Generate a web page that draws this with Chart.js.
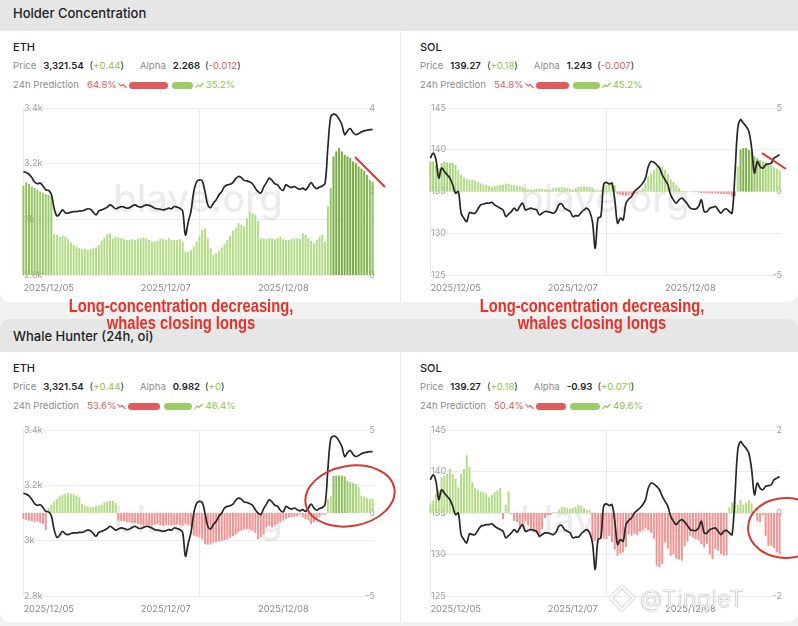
<!DOCTYPE html>
<html>
<head>
<meta charset="utf-8">
<script src="https://cdn.jsdelivr.net/npm/chart.js@4.4.1/dist/chart.umd.min.js"></script>
<style>
html,body{margin:0;padding:0;}
body{width:798px;height:626px;overflow:hidden;background:#f1f1f1;font-family:Inter,"Noto Sans",sans-serif;position:relative;}
.band{position:absolute;left:0;width:798px;background:#e6e6e6;color:#1e1e1e;font-size:13px;font-weight:500;box-sizing:border-box;padding-left:13px;}
.card{position:absolute;left:0;width:798px;background:#fff;}
.divider{position:absolute;left:400px;width:1px;background:#e8e8e8;}
.sym{position:absolute;font-size:11px;font-weight:500;color:#222;line-height:14px;}
.row{position:absolute;font-size:9.6px;line-height:14px;color:#8c8c8c;white-space:nowrap;display:flex;align-items:center;}
.v{color:#262626;font-weight:600;}
.p{color:#262626;}
.g{color:#8bc34a;}
.r{color:#e25c5c;}
.pb{display:inline-block;height:7px;border-radius:3.5px;}
canvas{position:absolute;}
.note{position:absolute;color:#e2342b;font-family:"Liberation Sans",Arial,sans-serif;font-weight:bold;font-size:18px;line-height:18px;white-space:nowrap;transform:translateX(-50%) scaleX(0.82);}
.wm{position:absolute;left:640px;top:585px;font-size:23px;font-weight:300;color:rgba(255,255,255,0.9);text-shadow:0 0 1px #9a9a9a,0 0 1px #9a9a9a;letter-spacing:0.5px;}
</style>
</head>
<body>
<div class="band" style="top:0;height:31px;line-height:27px;">Holder Concentration</div>
<div class="card" style="top:31px;height:271px;border-radius:0 0 10px 10px;"></div>
<div class="divider" style="top:31px;height:271px;"></div>
<div class="band" style="top:319px;height:33px;line-height:34px;border-radius:10px 10px 0 0;">Whale Hunter (24h, oi)</div>
<div class="card" style="top:352px;height:270px;border-radius:0 0 10px 10px;"></div>
<div class="divider" style="top:352px;height:270px;"></div>

<div id="texts"></div>

<canvas id="c1" width="400" height="205" style="left:0;top:95px;"></canvas>
<canvas id="c2" width="391" height="205" style="left:407px;top:95px;"></canvas>
<canvas id="c3" width="400" height="204" style="left:0;top:417px;"></canvas>
<canvas id="c4" width="391" height="204" style="left:407px;top:417px;"></canvas>

<div class="note" style="left:181px;top:297px;">Long-concentration decreasing,</div>
<div class="note" style="left:181px;top:314px;">whales closing longs</div>
<div class="note" style="left:592px;top:297px;">Long-concentration decreasing,</div>
<div class="note" style="left:592px;top:314px;">whales closing longs</div>

<svg width="798" height="626" style="position:absolute;left:0;top:0;pointer-events:none;">
  <line x1="355" y1="157" x2="385" y2="187" stroke="#e0352c" stroke-width="2"/>
  <line x1="762" y1="153" x2="786" y2="169" stroke="#e0352c" stroke-width="2"/>
  <ellipse cx="350" cy="496" rx="45" ry="30" transform="rotate(-10 350 496)" fill="none" stroke="#d8372f" stroke-width="2"/>
  <ellipse cx="786" cy="528" rx="38" ry="30" fill="none" stroke="#d8372f" stroke-width="2"/>
  <g transform="translate(622 598) rotate(45)" fill="none" stroke="rgba(255,255,255,0.95)" stroke-width="2.2">
    <rect x="-8" y="-8" width="16" height="16" style="filter:drop-shadow(0 0 1px #999)"/>
  </g>
</svg>
<div class="wm">@TingleT</div>

<script>
// ---------- data ----------
const xTickLabels = ['2025/12/05', '2025/12/07', '2025/12/08'];

const ethPrice = [
  3172,3168,3162,3150,3134,3128,3130,3120,3106,3104,
  3090,3040,3012,3020,3034,3024,3022,3026,3028,3028,
  3030,3030,3034,3038,3036,3026,3016,3030,3034,3038,
  3044,3052,3046,3038,3042,3046,3044,3040,3042,3048,
  3052,3046,3044,3048,3052,3050,3046,3040,3038,3036,
  3034,3036,3040,3038,3046,3044,3040,3030,2944,2990,
  3030,3100,3135,3142,3138,3100,3052,3042,3058,3070,
  3088,3100,3118,3124,3126,3132,3146,3154,3150,3140,
  3138,3134,3128,3112,3100,3094,3116,3132,3148,3140,
  3128,3124,3110,3104,3124,3118,3114,3118,3112,3108,
  3112,3106,3118,3132,3118,3110,3116,3120,3130,3260,
  3368,3378,3374,3360,3340,3304,3318,3326,3312,3304,
  3308,3314,3318,3320,3322,3322
];

const solPrice = [
  139.0,139.6,138.8,136.6,137.8,137.4,137.0,136.6,135.8,134.8,
  135.0,132.4,131.8,131.4,132.5,132.4,132.4,132.9,133.4,133.5,
  133.6,133.6,133.7,133.4,133.2,133.0,132.8,132.0,132.3,132.6,
  133.0,132.7,133.2,133.6,132.8,132.9,133.0,132.9,132.8,132.2,
  132.4,132.6,132.6,132.5,132.4,132.7,133.4,133.5,133.0,132.8,
  132.6,132.0,132.1,132.1,132.5,132.8,133.0,132.6,131.4,128.2,
  131.8,132.0,135.8,136.1,135.9,136.0,134.0,131.2,131.8,131.6,
  133.6,134.1,134.4,135.0,135.3,135.6,136.0,136.6,138.0,138.6,
  138.5,138.2,137.8,137.0,136.4,135.8,134.6,134.0,133.6,134.0,
  134.2,133.9,133.5,133.0,132.9,132.9,133.2,134.0,132.6,132.6,
  133.0,133.1,133.2,132.8,132.4,132.8,132.9,132.6,132.4,137.0,
  142.5,143.6,143.2,142.8,142.2,140.2,137.2,138.6,138.0,137.8,
  138.2,138.3,138.4,139.0,139.2,139.4
];

const ethHolder = [
  2.14,2.22,2.18,2.12,2.08,2.04,2.00,1.96,1.94,1.92,
  1.90,0.98,0.96,0.92,0.94,0.92,0.86,0.78,0.72,0.68,
  0.64,0.62,0.62,0.60,0.62,0.64,0.66,0.72,0.82,0.90,
  0.98,1.00,0.88,0.92,0.90,0.88,0.86,0.84,0.84,0.86,
  0.84,0.86,0.88,0.90,0.88,0.84,0.80,0.80,0.82,0.86,
  0.86,0.84,0.88,0.84,0.84,0.84,0.86,0.80,0.56,0.56,
  0.60,0.68,0.80,0.92,1.08,1.12,0.88,0.64,0.48,0.52,
  0.58,0.66,0.74,0.84,0.94,1.06,1.12,1.24,1.20,1.16,
  1.36,1.52,1.48,1.44,1.30,0.88,0.88,0.86,0.88,0.88,
  0.86,0.88,0.92,0.86,0.84,0.84,0.86,0.88,0.88,0.86,
  1.00,0.96,0.88,0.82,0.76,0.84,0.92,0.96,0.80,1.64,
  2.08,2.84,2.96,3.04,2.96,2.88,2.84,2.80,2.72,2.68,
  2.60,2.55,2.50,2.40,2.28,2.24
];

const solHolder = [
  1.80,1.80,1.60,1.40,1.70,1.80,1.75,1.70,1.70,1.60,
  1.30,1.00,0.84,0.74,0.70,0.70,0.66,0.56,0.48,0.42,
  0.38,0.34,0.30,0.32,0.36,0.38,0.40,0.48,0.46,0.40,
  0.38,0.36,0.32,0.26,0.20,0.14,0.10,0.12,0.16,0.16,
  0.16,0.14,0.12,0.10,0.20,0.24,0.24,0.26,0.24,0.22,
  0.14,0.10,0.20,0.28,0.28,0.30,0.28,0.26,0.24,0.10,
  0.08,0.10,0.30,0.40,0.42,0.40,0.38,-0.16,-0.20,-0.24,
  -0.26,-0.24,-0.22,-0.16,-0.10,0.06,0.20,0.50,0.90,1.10,
  1.30,1.45,1.56,1.50,1.30,1.04,0.70,0.56,0.40,0.20,
  0.06,0.02,0.00,0.00,-0.04,-0.04,-0.06,-0.08,-0.08,-0.10,
  -0.12,-0.12,-0.12,-0.14,-0.14,-0.16,-0.16,-0.18,-0.30,-0.28,
  1.50,2.50,2.60,2.60,2.50,2.40,2.10,2.00,1.90,1.80,
  1.75,1.70,1.60,1.45,1.36,1.30
];

const ethWhale = [
  -0.36,-0.42,-0.46,-0.50,-0.56,-0.50,-0.60,-0.66,-1.03,0.30,
  0.50,0.70,0.85,1.00,1.10,1.15,1.20,1.18,1.12,1.05,
  0.95,0.55,0.44,0.40,0.34,0.36,0.42,0.46,0.50,0.64,
  0.68,0.72,0.75,0.60,-0.46,-0.48,-0.50,-0.56,-0.56,-0.60,
  -0.62,-0.66,-0.70,-0.77,-0.72,-0.74,-0.77,-0.70,-0.66,-0.72,
  -0.77,-0.72,-0.74,-0.76,-0.72,-0.70,-0.74,-0.77,-0.68,-0.76,
  -0.80,-1.37,-1.42,-1.47,-1.60,-1.88,-1.92,-1.90,-1.78,-1.75,
  -1.70,-1.68,-1.62,-1.58,-1.50,-1.40,-1.30,-1.15,-1.07,-1.00,
  -0.97,-1.00,-1.07,-1.20,-1.58,-1.45,-1.30,-0.87,-0.77,-0.87,
  -0.75,-0.66,-0.55,-0.46,-0.35,-0.28,-0.25,-0.22,-0.20,-0.10,
  -0.26,-0.36,-0.45,-0.66,-0.56,-0.30,-0.25,-0.10,-0.10,0.83,
  1.02,2.23,2.26,2.26,2.26,2.20,1.93,1.85,1.80,1.75,
  1.56,1.05,1.00,0.90,0.85,0.83
];

const solWhale = [
  0.23,0.30,0.46,0.54,0.86,0.90,0.94,1.06,0.94,0.82,
  0.62,0.94,1.06,1.39,1.10,0.74,0.60,0.56,0.52,0.50,
  0.46,0.38,0.44,0.50,0.54,0.60,-0.15,0.20,0.52,-0.02,
  -0.19,-0.22,-0.39,-0.35,-0.20,-0.30,-0.39,-0.45,-0.50,-0.59,
  -0.39,-0.12,-0.06,-0.05,0.02,0.02,0.08,0.14,0.15,0.12,
  0.10,0.12,0.14,0.20,0.18,0.12,0.07,0.07,-0.71,-0.68,
  -0.69,-0.60,-0.62,-0.63,-0.55,-0.70,-0.88,-1.03,-0.98,-0.95,
  -0.82,-0.51,-0.55,-0.50,-0.53,-0.45,-0.42,-0.36,-0.42,-0.48,
  -0.62,-1.27,-1.31,-1.23,-0.71,-0.86,-1.03,-0.99,-1.10,-1.12,
  -1.15,-0.80,-0.69,-0.55,-0.59,-0.63,-0.67,-0.75,-0.83,-0.74,
  -1.00,-1.11,-0.87,-0.91,-0.99,-1.03,-1.02,0.14,0.26,0.30,
  0.20,0.31,0.20,0.25,0.31,0.23,0.00,-0.19,-0.22,-0.06,
  -0.55,-0.79,-0.79,-0.85,-0.95,-0.99
];

const headerStats = [
  {sym:'ETH', price:'3,321.54', priceChg:'+0.44', alpha:'2.268', alphaChg:'-0.012', down:64.8, up:35.2},
  {sym:'SOL', price:'139.27', priceChg:'+0.18', alpha:'1.243', alphaChg:'-0.007', down:54.8, up:45.2},
  {sym:'ETH', price:'3,321.54', priceChg:'+0.44', alpha:'0.982', alphaChg:'+0', down:53.6, up:46.4},
  {sym:'SOL', price:'139.27', priceChg:'+0.18', alpha:'-0.93', alphaChg:'+0.071', down:50.4, up:49.6}
];

// ---------- header texts ----------
const panelPos = [{x:13, y:40}, {x:420, y:40}, {x:13, y:361}, {x:420, y:361}];
const downIcon = '<svg width="9" height="7" style="margin-left:1px"><polyline points="0.5,1 3,4 5,2.5 8.5,6" fill="none" stroke="#e25c5c" stroke-width="1.1"/></svg>';
const upIcon = '<svg width="9" height="7" style="margin-left:2px"><polyline points="0.5,6 3,3 5,4.5 8.5,1" fill="none" stroke="#8bc34a" stroke-width="1.1"/></svg>';
let html = '';
headerStats.forEach((s, i) => {
  const p = panelPos[i];
  const cls = s.alphaChg.startsWith('-') ? 'r' : 'g';
  const redW = Math.round(60 * s.down / 100), greenW = 60 - redW;
  html += `<div class="sym" style="left:${p.x}px;top:${p.y}px">${s.sym}</div>`;
  html += `<div class="row" style="left:${p.x}px;top:${p.y + 19}px"><span>Price</span><span class="v" style="margin-left:7px">${s.price}</span><span class="p" style="margin-left:6px">(<span class="g">${s.priceChg}</span>)</span><span style="margin-left:16px">Alpha</span><span class="v" style="margin-left:7px">${s.alpha}</span><span class="p" style="margin-left:5px">(<span class="${cls}">${s.alphaChg}</span>)</span></div>`;
  html += `<div class="row" style="left:${p.x}px;top:${p.y + 38}px"><span>24h Prediction</span><span class="r" style="margin-left:8px">${s.down}%</span>${downIcon}<span class="pb" style="margin-left:2px;width:${redW}px;background:#e15b5b"></span><span class="pb" style="margin-left:4px;width:${greenW}px;background:#9ccc65"></span>${upIcon}<span class="g" style="margin-left:2px">${s.up}%</span></div>`;
});
document.getElementById('texts').innerHTML = html;

// ---------- charts ----------
const TICK_EVERY = 42;
const MID_GRID = 63;
const categories = ethPrice.map((_, i) => i % TICK_EVERY === 0 ? xTickLabels[i / TICK_EVERY] : '');

function mix(a, b, t) {
  const pa = [1,3,5].map(k => parseInt(a.substr(k, 2), 16));
  const pb = [1,3,5].map(k => parseInt(b.substr(k, 2), 16));
  return 'rgb(' + pa.map((v, k) => Math.round(v + (pb[k] - v) * t)).join(',') + ')';
}
function barColor(v) {
  if (v < 0) return '#f09494';
  const t = Math.max(0, Math.min(1, (v - 1.5) / 1.2));
  return mix('#b4dc88', '#78ab43', t);
}

const watermark = {
  id: 'wm',
  beforeDatasetsDraw(chart) {
    const {ctx, chartArea: a} = chart;
    ctx.save();
    ctx.font = '500 38px Inter, sans-serif';
    ctx.fillStyle = 'rgba(0,0,0,0.075)';
    ctx.textAlign = 'center';
    ctx.textBaseline = 'middle';
    ctx.fillText('blave.org', (a.left + a.right) / 2, (a.top + a.bottom) / 2 + 9);
    ctx.restore();
  }
};

Chart.defaults.font.family = 'Inter, sans-serif';

function makeChart(id, price, bars, pAxis, bAxis, padRight) {
  return new Chart(document.getElementById(id), {
    data: {
      labels: categories,
      datasets: [
        {type: 'line', data: price, yAxisID: 'y', borderColor: '#262626', borderWidth: 1.7,
         pointRadius: 0, tension: 0.35, order: 0},
        {type: 'bar', data: bars, yAxisID: 'y1', backgroundColor: c => barColor(c.raw),
         barPercentage: 0.72, categoryPercentage: 1, order: 1}
      ]
    },
    options: {
      responsive: false, animation: false,
      layout: {padding: {left: 18, right: padRight, top: 13, bottom: 0}},
      plugins: {legend: {display: false}, tooltip: {enabled: false}},
      scales: {
        x: {
          grid: {offset: false, drawTicks: false,
                 color: c => (c.index === 0 || c.index === MID_GRID) ? '#e8e8e8' : 'rgba(0,0,0,0)'},
          border: {display: false},
          ticks: {autoSkip: false, maxRotation: 0, align: 'start', padding: 8, color: '#8a8a8a', font: {size: 9.3}},
          afterFit: s => { s.height = 25; }
        },
        y: {
          position: 'left', min: pAxis.min, max: pAxis.max,
          ticks: {stepSize: pAxis.step, mirror: true, padding: 2, color: '#a0a0a0', font: {size: 9},
                  callback: pAxis.fmt},
          grid: {color: '#ececec', drawTicks: false}, border: {display: false}
        },
        y1: {
          position: 'right', min: bAxis.min, max: bAxis.max,
          ticks: {stepSize: bAxis.step, mirror: true, padding: 1, color: '#a0a0a0', font: {size: 9}},
          grid: {display: false, drawTicks: false}, border: {display: false}
        }
      }
    },
    plugins: [watermark]
  });
}

const kFmt = v => v >= 1000 ? (v / 1000) + 'k' : v;
const ethAxis = {min: 2800, max: 3400, step: 200, fmt: kFmt};
const solAxis = {min: 125, max: 145, step: 5, fmt: v => v};

makeChart('c1', ethPrice, ethHolder, ethAxis, {min: 0, max: 4, step: 2}, 24);
makeChart('c2', solPrice, solHolder, solAxis, {min: -5, max: 5, step: 5}, 15);
makeChart('c3', ethPrice, ethWhale, ethAxis, {min: -5, max: 5, step: 5}, 24);
makeChart('c4', solPrice, solWhale, solAxis, {min: -2, max: 2, step: 2}, 15);
</script>
</body>
</html>
